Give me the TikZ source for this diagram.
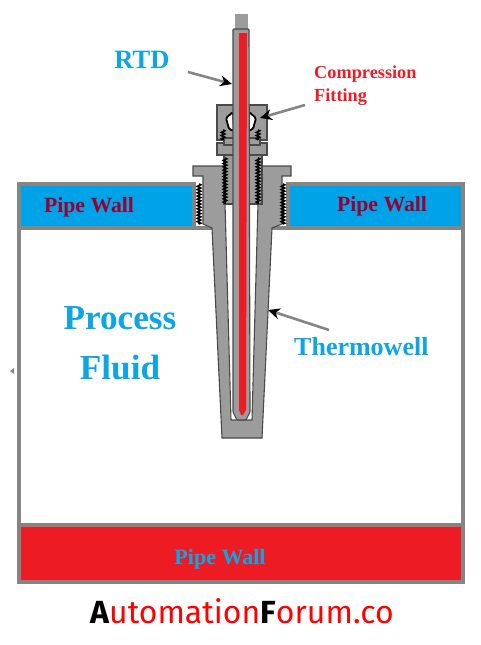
\documentclass[tikz,border=0pt]{standalone}
\usepackage{fontspec}
\setmainfont{Liberation Serif}
\newfontfamily\brandfont{Fira Sans}
\usetikzlibrary{arrows.meta, positioning, calc, decorations.pathmorphing}
\definecolor{wallblue}{HTML}{00A2E8}
\definecolor{wallred}{HTML}{ED1C24}
\definecolor{wallgray}{HTML}{858585}
\definecolor{partgray}{HTML}{9C9C9C}
\definecolor{partline}{HTML}{4A4A4A}
\definecolor{wine}{HTML}{990030}
\definecolor{labelblue}{HTML}{0EA5E6}

\begin{document}
\begin{tikzpicture}[
        x=1pt, y=-1pt,
        wall/.style={draw=wallgray, line width=3.2pt},
        part/.style={draw=partline, line width=1.1pt, fill=partgray},
        thread/.style={draw=black, line width=1.7pt, decorate, decoration={zigzag, segment length=3.2pt, amplitude=1.6pt}},
        pointer/.style={draw=wallgray, line width=2.6pt, -{Stealth[black, length=12pt, width=11pt]}},
        lbl/.style={font=\bfseries, inner sep=0pt}
    ]
        \useasboundingbox (0,0) rectangle (480,645);

        % --- pipe ---
        \draw[wall, fill=white] (19,228) rectangle (463,525);
        \draw[wall, fill=wallblue] (19,184) rectangle (194,228);
        \draw[wall, fill=wallblue] (288,184) rectangle (463,228);
        \draw[wall, fill=wallred] (19,525) rectangle (463,582);
        \fill[wallgray] (10,371) -- (14,368) -- (14,374) -- cycle;

        % --- thermowell ---
        \draw[part] (193,166) -- (291,166) -- (291,176) -- (282,176) -- (282,224) -- (272,228)
            -- (262,438) -- (222,438) -- (212,228) -- (203,224) -- (203,176) -- (193,176) -- cycle;
        \draw[draw=partline, line width=1.1pt, fill=white] (225,203) -- (258,203) -- (252,420)
            -- (231,420) -- cycle;

        % --- fitting ---
        \draw[part] (224,155) rectangle (262,204);
        \draw[part] (217,143) rectangle (267,155);
        \draw[part] (217,105) rectangle (267,140);
        \draw[part] (224,138) rectangle (260,145);
        \draw[draw=black, line width=1.8pt, fill=white, rounded corners=1.5pt] (233,112) -- (226,118) -- (229,129) -- (234,131) -- cycle;
        \draw[draw=black, line width=1.8pt, fill=white, rounded corners=1.5pt] (249,112) -- (256,118) -- (253,129) -- (248,131) -- cycle;

        % --- threads ---
        \draw[thread] (199,184) -- (199,224);
        \draw[thread] (283,184) -- (283,224);
        \draw[thread] (225,158) -- (225,204);
        \draw[thread] (258,158) -- (258,204);
        \draw[thread] (223,130) -- (223,140);
        \draw[thread] (258,130) -- (258,140);

        % --- RTD ---
        \fill[partgray] (235,14) rectangle (248,29);
        \draw[part, rounded corners=1pt] (233,29) -- (249,29) -- (250,412) -- (246,420) -- (237,420) -- (233,412) -- cycle;
        \fill[wallred] (239,33) -- (247,33) -- (246,410) -- (243,415) -- (241,415) -- (239,410) -- cycle;

        % --- labels ---
        \node[lbl, font=\fontsize{26.5}{26}\bfseries, text=labelblue] (rtd) at (142,60) {RTD};
        \node[lbl, font=\fontsize{18.3}{23}\bfseries, text=wallred, align=left, anchor=west] (fitting) at (314,86) {Compression\\Fitting};
        \node[lbl, font=\fontsize{21.7}{21}\bfseries, text=wine] (wallleft) at (89,207.5) {Pipe Wall};
        \node[lbl, font=\fontsize{21.7}{21}\bfseries, text=wine] (wallright) at (382,206.5) {Pipe Wall};
        \node[lbl, font=\fontsize{35.2}{50}\bfseries, text=labelblue, align=center] (fluid) at (120,343) {Process\\Fluid};
        \node[lbl, font=\fontsize{26}{26}\bfseries, text=labelblue, anchor=west] (well) at (294,347) {Thermowell};
        \node[lbl, font=\fontsize{22}{22}\bfseries, text=labelblue] (wallbottom) at (220,559) {Pipe Wall};
        \node[lbl, font=\fontsize{32}{32}\brandfont\mdseries, text=red] (brand) at (242,611) {\textcolor{black}{\bfseries A}utomation\textcolor{black}{\bfseries F}orum.co};

        % --- pointers ---
        \coordinate (rtdtail) at (188,72);
        \coordinate (rtdtip) at (232,84);
        \coordinate (fittingtail) at (305,105);
        \coordinate (fittingtip) at (260,118);
        \coordinate (welltail) at (329,330);
        \coordinate (welltip) at (268,310);
        \draw[pointer] (rtdtail) -- (rtdtip);
        \draw[pointer] (fittingtail) -- (fittingtip);
        \draw[pointer] (welltail) -- (welltip);
    \end{tikzpicture}
\end{document}
